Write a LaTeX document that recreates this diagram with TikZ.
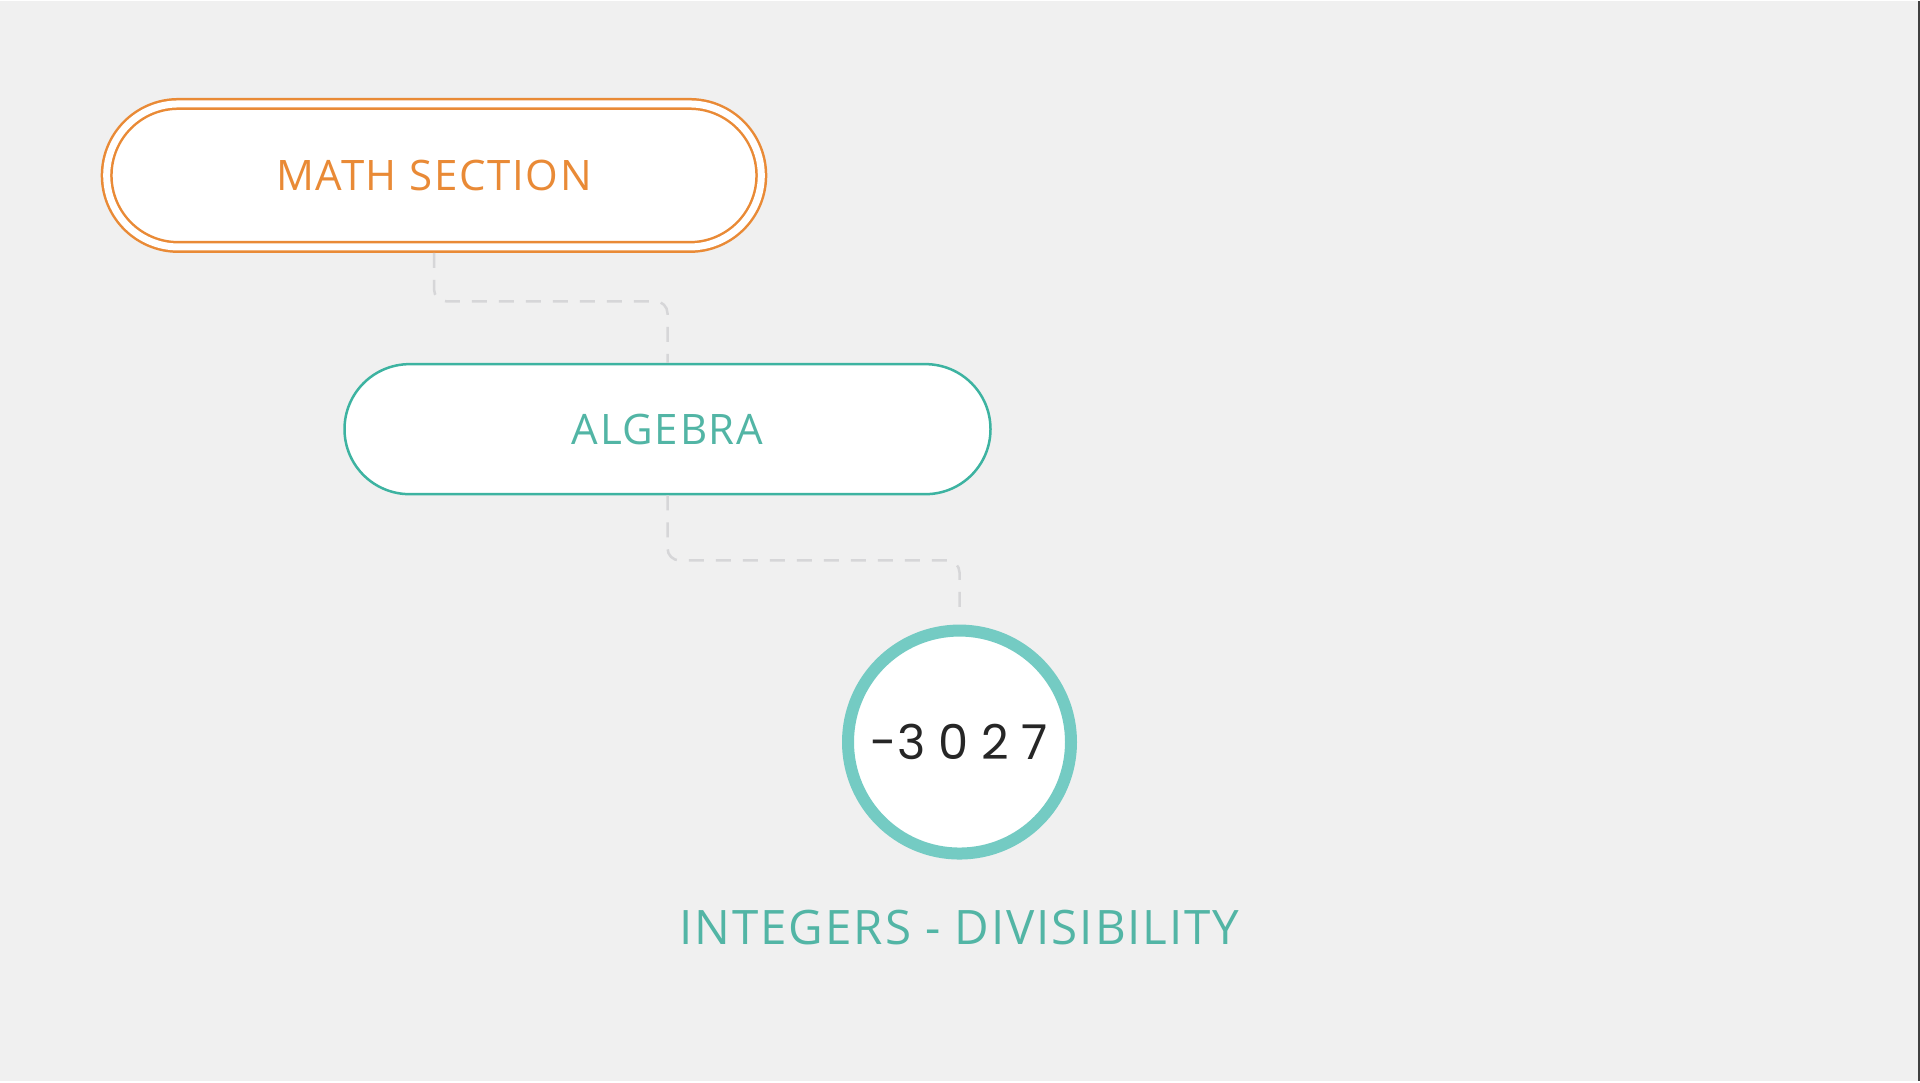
\documentclass[tikz,border=0pt]{standalone}
\usepackage{fontspec}
\setmainfont[LetterSpace=4]{Open Sans}
\newfontfamily\digitfont{Poppins}
\usetikzlibrary{positioning}
\definecolor{bggray}{RGB}{240,240,240}
\definecolor{ocre}{RGB}{233,138,54}
\definecolor{tealline}{RGB}{61,179,161}
\definecolor{tealtext}{RGB}{82,181,165}
\definecolor{tealring}{RGB}{116,203,195}
\definecolor{dashgray}{RGB}{214,214,216}
\begin{document}
\begin{tikzpicture}[x=1pt,y=-1pt,
  link/.style={draw=dashgray, line width=2.5pt, dash pattern=on 15pt off 12pt, rounded corners=12pt},
  pill/.style={fill=white, inner sep=0pt}]
\fill [bggray] (0,0) rectangle (1920,1080);
\draw [line width=2.5pt, black!75] (1918.75,0) -- (1918.75,1080);

\node [pill, draw=ocre, line width=2.5pt, double=white, double distance=7pt, minimum width=654.6pt, minimum height=143pt, rounded corners=71.5pt, outer sep=6pt, text=ocre, font=\fontsize{42}{42}\selectfont] (math) at (434,174.2) {MATH SECTION};
\node [pill, draw=tealline, line width=2.5pt, minimum width=646pt, minimum height=130pt, rounded corners=65pt, text=tealtext, font=\fontsize{42}{42}\selectfont] (algebra) at (667.5,427.9) {ALGEBRA};
\node [circle, pill, draw=tealring, line width=12pt, minimum size=223pt, text=black!85, font=\digitfont\fontsize{48}{48}\selectfont] (num) at (959.5,740.8) {-3 0 2 7};
\node [below=50pt of num, inner sep=0pt, text=tealtext, font=\fontsize{47.5}{47.5}\selectfont] (topic) {INTEGERS - DIVISIBILITY};

\draw [link] (math.south) -- ++(0,48.3) -| (algebra.north);
\draw [link, shorten >=10pt] (algebra.south) -- ++(0,65) -| (num.north);
\end{tikzpicture}
\end{document}
